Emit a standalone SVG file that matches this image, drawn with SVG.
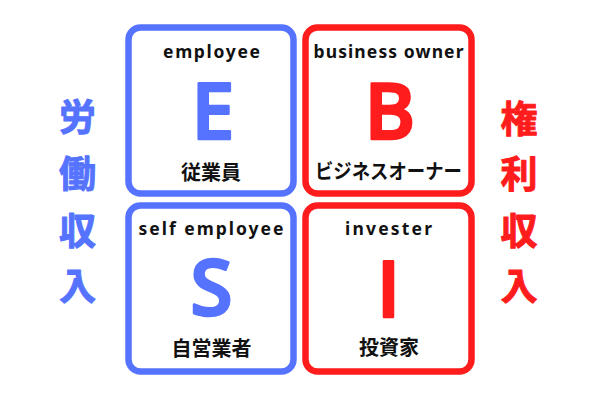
<svg xmlns="http://www.w3.org/2000/svg" width="600" height="400" viewBox="0 0 600 400">
<style>
.box{fill:#fff;stroke-width:6.5}
.blue{stroke:#5573FF}
.red{stroke:#FF1C1C}
.en{font-family:"Noto Sans","Noto Sans CJK JP",sans-serif;font-weight:700;font-size:17.5px;fill:#111;text-anchor:middle}
.jp{font-family:"Noto Sans CJK JP",sans-serif;font-weight:700;font-size:20px;fill:#111;text-anchor:middle}
.big{font-family:"Open Sans","Noto Sans",sans-serif;font-weight:600;font-size:77px;text-anchor:middle;stroke-width:2.5;stroke-linejoin:round;stroke-linecap:round;paint-order:stroke}
.bb{fill:#5573FF;stroke:#5573FF}
.rb{fill:#FF1C1C;stroke:#FF1C1C}
.side{font-family:"Noto Sans CJK JP",sans-serif;font-weight:700;font-size:37px;text-anchor:middle;stroke-width:1;stroke-linejoin:round}
</style>
<g id="connectors"></g>
<g id="node-E">
<rect class="box blue" x="128.5" y="27.5" width="165" height="166" rx="12"/>
<text class="en" x="211.5" y="58" textLength="97" lengthAdjust="spacing">employee</text>
<text class="big bb" x="213" y="139">E</text>
<text class="jp" x="211" y="180">従業員</text>
</g>
<g id="node-B">
<rect class="box red" x="305.5" y="27.5" width="166" height="166" rx="12"/>
<text class="en" x="388.5" y="58" textLength="150" lengthAdjust="spacing">business owner</text>
<text class="big rb" x="390" y="139">B</text>
<text class="jp" x="388.5" y="179" textLength="147" lengthAdjust="spacingAndGlyphs">ビジネスオーナー</text>
</g>
<g id="node-S">
<rect class="box blue" x="128.5" y="205.5" width="165" height="166" rx="12"/>
<text class="en" x="211" y="235" textLength="145" lengthAdjust="spacing">self employee</text>
<text class="big bb" x="211.5" y="315">S</text>
<text class="jp" x="211.5" y="356">自営業者</text>
</g>
<g id="node-I">
<rect class="box red" x="305.5" y="205.5" width="166" height="166" rx="12"/>
<text class="en" x="388.5" y="235" textLength="87" lengthAdjust="spacing">invester</text>
<text class="big rb" x="388.5" y="317">I</text>
<text class="jp" x="389" y="355">投資家</text>
</g>
<g id="label-left">
<text class="side bb" x="77.5" y="131">労</text>
<text class="side bb" x="77.5" y="188">働</text>
<text class="side bb" x="77.5" y="245">収</text>
<text class="side bb" x="77.5" y="300">入</text>
</g>
<g id="label-right">
<text class="side rb" x="519" y="133">権</text>
<text class="side rb" x="519" y="188">利</text>
<text class="side rb" x="519" y="245">収</text>
<text class="side rb" x="519" y="300">入</text>
</g>
</svg>
